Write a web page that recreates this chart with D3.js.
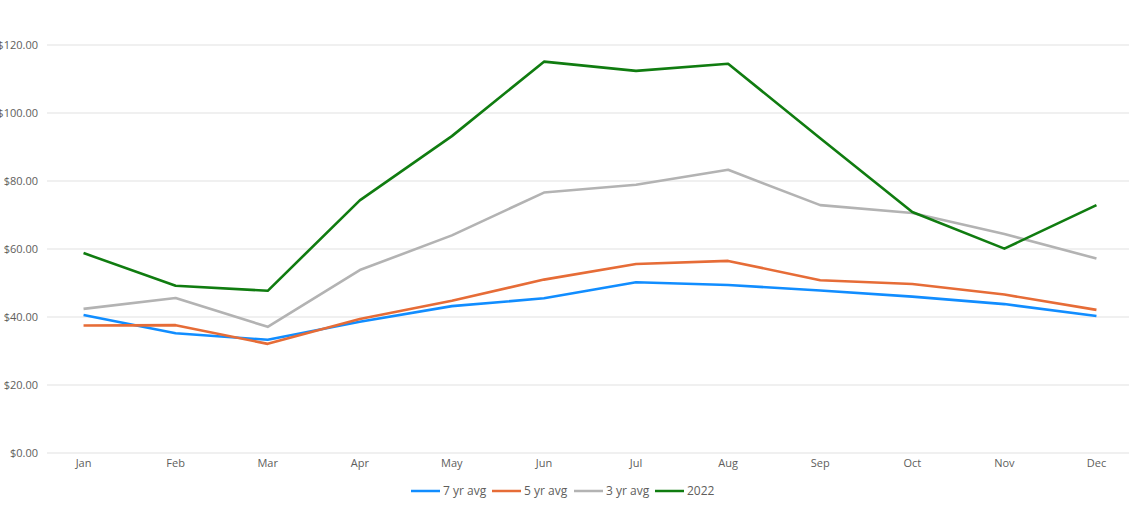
<!DOCTYPE html>
<html>
<head>
<meta charset="utf-8">
<script src="https://cdn.jsdelivr.net/npm/d3@7"></script>
<style>
  body { margin: 0; background: #fff; }
  svg text { font-family: "Segoe UI", "Open Sans", "DejaVu Sans", sans-serif; fill: #605E5C; }
</style>
</head>
<body>
<svg id="chart" width="1129" height="505"></svg>
<script>
const months = ["Jan", "Feb", "Mar", "Apr", "May", "Jun", "Jul", "Aug", "Sep", "Oct", "Nov", "Dec"];
const yTicks = [0, 20, 40, 60, 80, 100, 120];
const seriesNames = ["7 yr avg", "5 yr avg", "3 yr avg", "2022"];
const seriesColors = ["#118DFF", "#E66C37", "#B3B3B3", "#107C10"];

const avg7 = [40.6, 35.2, 33.3, 38.6, 43.2, 45.5, 50.2, 49.4, 47.8, 46.0, 43.8, 40.3];
const avg5 = [37.5, 37.6, 32.1, 39.4, 44.8, 51.0, 55.6, 56.5, 50.8, 49.7, 46.6, 42.1];
const avg3 = [42.4, 45.6, 37.1, 53.8, 64.0, 76.6, 78.9, 83.3, 72.9, 70.6, 64.4, 57.2];
const y2022 = [58.8, 49.2, 47.7, 74.3, 93.2, 115.1, 112.4, 114.5, 92.6, 70.9, 60.1, 72.9];

const allSeries = [avg7, avg5, avg3, y2022];

const svg = d3.select("#chart");

const plotLeft = 37.5, plotRight = 1142.5, gridLeft = 47;
const plotTop = 45, plotBottom = 453;

const x = d3.scaleBand()
    .domain(months)
    .range([plotLeft, plotRight]);

const y = d3.scaleLinear()
    .domain([0, 120])
    .range([plotBottom, plotTop]);

// gridlines
svg.append("g")
    .selectAll("line")
    .data(yTicks)
    .join("line")
    .attr("x1", gridLeft)
    .attr("x2", 1129)
    .attr("y1", d => y(d))
    .attr("y2", d => y(d))
    .attr("stroke", "#E1E1E1")
    .attr("stroke-width", 1);

// y axis labels
const yAxis = svg.append("g")
    .attr("transform", `translate(${gridLeft}, 0)`)
    .call(d3.axisLeft(y).tickValues(yTicks).tickSize(0).tickPadding(9)
        .tickFormat(d => "$" + d3.format(".2f")(d)));
yAxis.select(".domain").remove();
yAxis.selectAll("text").style("font-size", "11px").attr("fill", "#605E5C");

// x axis labels
const xAxis = svg.append("g")
    .attr("transform", `translate(0, ${plotBottom})`)
    .call(d3.axisBottom(x).tickSize(0).tickPadding(6));
xAxis.select(".domain").remove();
xAxis.selectAll("text").style("font-size", "11px").attr("fill", "#605E5C");

// lines
const line = d3.line()
    .x((d, i) => x(months[i]) + x.bandwidth() / 2)
    .y(d => y(d));

svg.append("g")
    .selectAll("path")
    .data(allSeries)
    .join("path")
    .attr("d", d => line(d))
    .attr("fill", "none")
    .attr("stroke", (d, i) => seriesColors[i])
    .attr("stroke-width", 2.6)
    .attr("stroke-linejoin", "round");

// legend
const legendX = [411, 492, 574, 655];
const legend = svg.append("g")
    .selectAll("g")
    .data(seriesNames)
    .join("g")
    .attr("transform", (d, i) => `translate(${legendX[i]}, 491)`);
legend.append("line")
    .attr("x1", 0).attr("x2", 29)
    .attr("y1", 0).attr("y2", 0)
    .attr("stroke", (d, i) => seriesColors[i])
    .attr("stroke-width", 2.5);
legend.append("text")
    .attr("x", 32)
    .attr("y", 0)
    .attr("dy", "0.35em")
    .style("font-size", "12px")
    .text(d => d);
</script>
</body>
</html>
